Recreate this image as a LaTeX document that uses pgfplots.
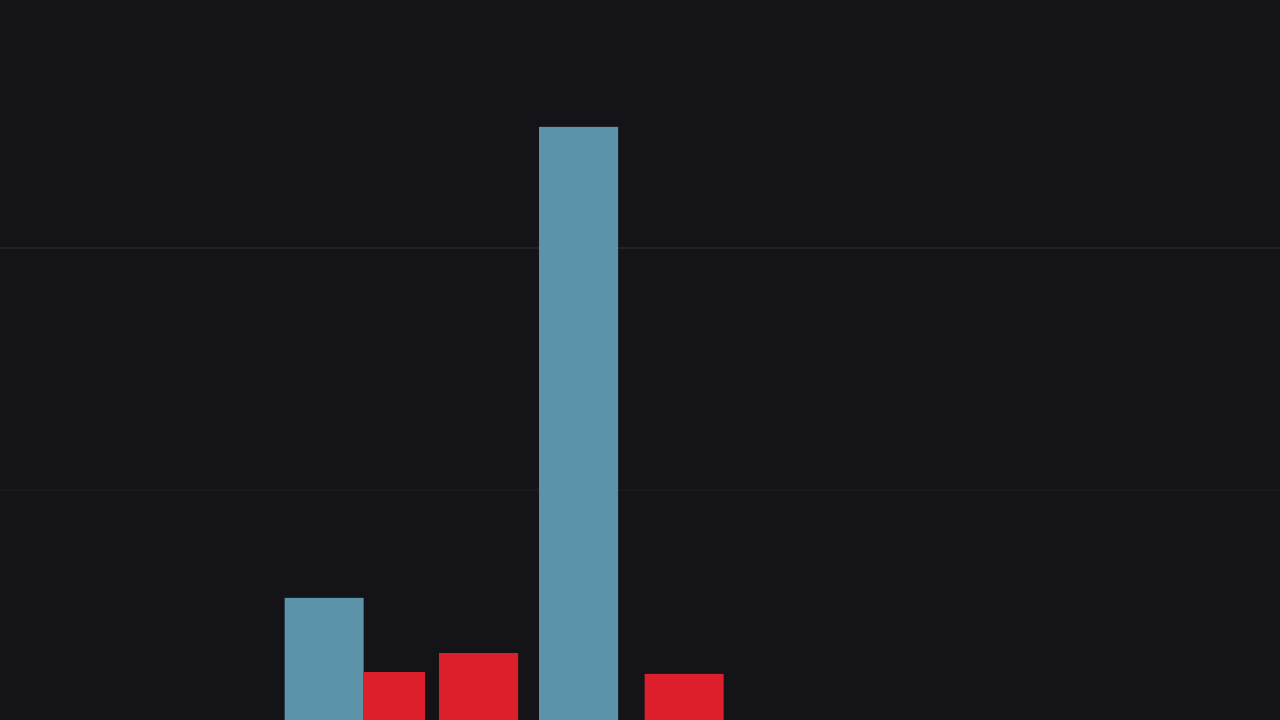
\documentclass[border=0pt]{standalone}
\usepackage{pgfplots}
\pgfplotsset{compat=1.18}
\definecolor{bg}{HTML}{141418}
\definecolor{gridA}{HTML}{222226}
\definecolor{gridB}{HTML}{1A1A1E}
\definecolor{barblue}{HTML}{5B93A8}
\definecolor{barred}{HTML}{DC1F2B}
\begin{document}
\begin{tikzpicture}
\begin{axis}[
  scale only axis,
  width=1280bp, height=720bp,
  xmin=0, xmax=1280,
  ymin=0.0496, ymax=3.0248,
  axis line style={draw=none},
  xtick=\empty, ytick=\empty,
  axis background/.style={fill=bg},
  clip=true,
  ybar, bar shift=0pt,
]
  % faint horizontal guides
  \addplot[ybar=false, sharp plot, gridA, line width=1.5bp, forget plot] coordinates {(0,2) (1280,2)};
  \addplot[ybar=false, sharp plot, gridB, line width=1.2bp, forget plot] coordinates {(0,1) (1280,1)};

  % blue series
  \addplot[fill=barblue, draw=none, bar width=79] coordinates {
    (324,0.554)
    (578.5,2.50)
  };
  % red series
  \addplot[fill=barred, draw=none, bar width=62] coordinates {
    (394,0.248)
  };
  \addplot[fill=barred, draw=none, bar width=79] coordinates {
    (478.5,0.326)
    (684,0.240)
  };
\end{axis}
\pgfresetboundingbox
\path (current axis.south west) rectangle (current axis.north east);
\end{tikzpicture}
\end{document}
